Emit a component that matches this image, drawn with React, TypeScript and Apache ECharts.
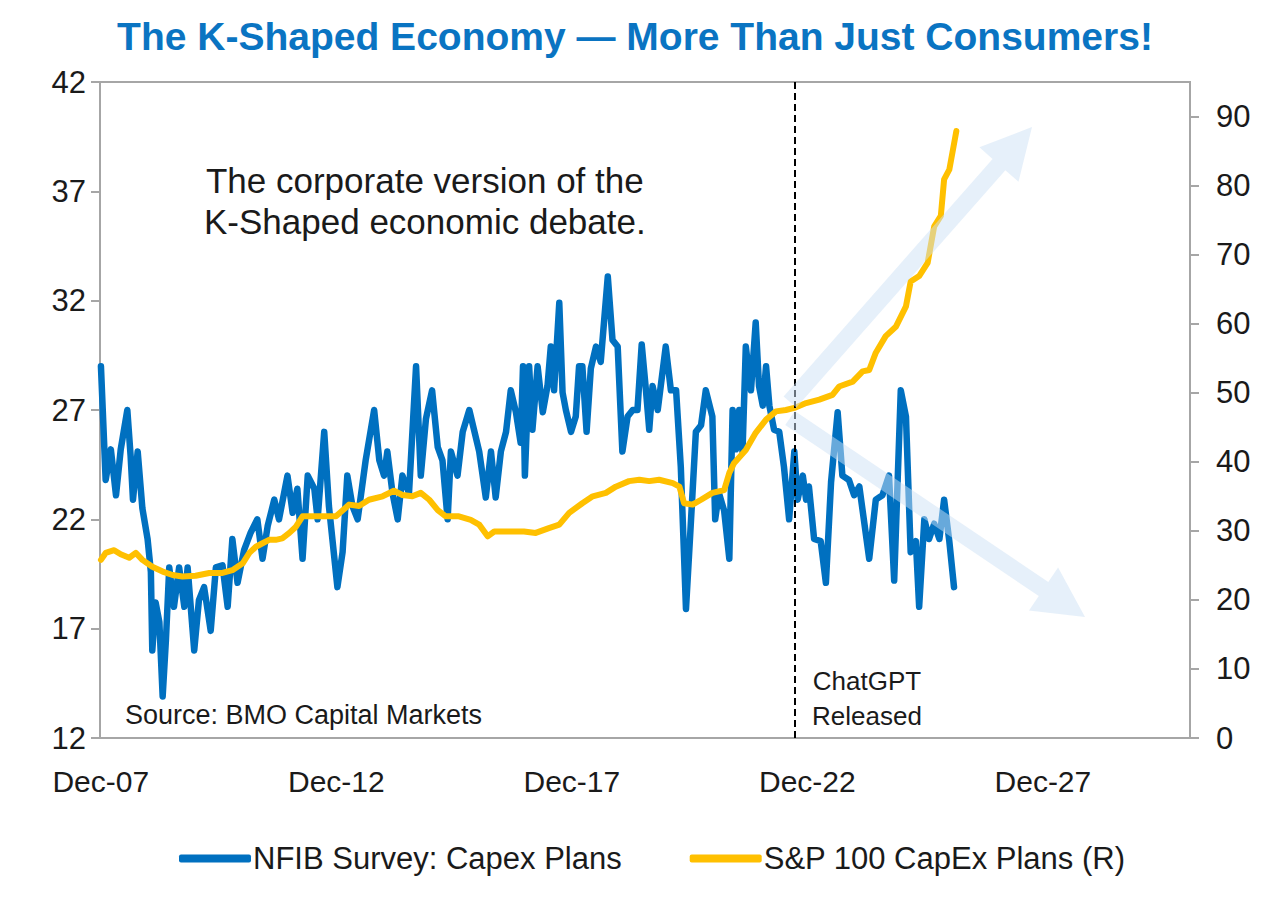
import React, { useEffect, useRef } from 'react';
import * as echarts from 'echarts';

// NFIB small-business capex plans (% of firms), positions in decimal years
const nfibYears = [
  2007.92, 2008.02, 2008.13, 2008.24, 2008.34, 2008.48, 2008.55, 2008.60, 2008.70, 2008.80,
  2008.91, 2008.98, 2009.01, 2009.08, 2009.16, 2009.23, 2009.30, 2009.37, 2009.47, 2009.58,
  2009.69, 2009.76, 2009.90, 2010.00, 2010.11, 2010.25, 2010.36, 2010.50, 2010.61, 2010.71,
  2010.82, 2010.96, 2011.10, 2011.24, 2011.35, 2011.46, 2011.60, 2011.70, 2011.88, 2011.99,
  2012.09, 2012.20, 2012.31, 2012.45, 2012.52, 2012.66, 2012.76, 2012.94, 2013.05, 2013.15,
  2013.26, 2013.37, 2013.54, 2013.72, 2013.83, 2013.93, 2014.00, 2014.11, 2014.22, 2014.32,
  2014.46, 2014.61, 2014.71, 2014.82, 2014.95, 2015.07, 2015.17, 2015.28, 2015.35, 2015.49,
  2015.60, 2015.74, 2015.84, 2015.95, 2016.09, 2016.20, 2016.30, 2016.41, 2016.52, 2016.62,
  2016.73, 2016.83, 2016.88, 2016.92, 2017.01, 2017.08, 2017.19, 2017.30, 2017.40, 2017.47,
  2017.54, 2017.65, 2017.72, 2017.79, 2017.90, 2018.00, 2018.07, 2018.14, 2018.23, 2018.32,
  2018.43, 2018.53, 2018.68, 2018.78, 2018.89, 2018.99, 2019.10, 2019.21, 2019.31, 2019.40,
  2019.49, 2019.56, 2019.63, 2019.74, 2019.91, 2020.02, 2020.13, 2020.23, 2020.34, 2020.44,
  2020.55, 2020.66, 2020.76, 2020.90, 2020.96, 2021.04, 2021.15, 2021.26, 2021.33, 2021.40,
  2021.47, 2021.54, 2021.61, 2021.72, 2021.82, 2021.89, 2021.97, 2022.04, 2022.11, 2022.21,
  2022.32, 2022.42, 2022.53, 2022.64, 2022.71, 2022.82, 2022.89, 2022.95, 2023.06, 2023.20,
  2023.31, 2023.42, 2023.56, 2023.66, 2023.80, 2023.91, 2024.02, 2024.23, 2024.37, 2024.51,
  2024.65, 2024.76, 2024.90, 2025.01, 2025.11, 2025.22, 2025.29, 2025.40, 2025.50, 2025.61,
  2025.72, 2025.82, 2025.93, 2026.03,
];
const nfibValues = [
  29.0, 23.8, 25.2, 23.1, 25.2, 27.0, 24.9, 22.9, 25.1, 22.5,
  21.1, 19.6, 16.0, 18.2, 17.3, 13.9, 16.5, 19.8, 18.0, 19.8,
  18.0, 19.8, 16.0, 18.3, 18.9, 16.9, 19.8, 19.9, 18.0, 21.1,
  19.1, 20.6, 21.4, 22.0, 20.2, 21.7, 22.9, 22.0, 24.0, 22.3,
  23.4, 20.2, 24.0, 23.4, 22.0, 26.0, 22.6, 18.9, 20.5, 24.0,
  22.6, 22.0, 24.7, 27.0, 24.7, 24.0, 25.1, 23.2, 22.0, 24.0,
  23.2, 29.0, 24.0, 26.6, 27.9, 25.3, 24.7, 22.0, 25.1, 24.0,
  26.0, 27.0, 26.1, 25.1, 23.0, 25.1, 23.0, 25.1, 26.0, 27.9,
  26.9, 25.5, 29.0, 24.0, 29.0, 26.1, 29.0, 26.9, 28.1, 29.9,
  27.9, 31.9, 27.8, 27.0, 26.0, 26.7, 29.0, 29.0, 26.0, 28.9,
  29.9, 29.2, 33.1, 30.2, 29.9, 25.1, 26.7, 27.0, 27.0, 30.0,
  27.9, 26.1, 28.1, 27.0, 29.9, 27.9, 27.9, 24.4, 17.9, 21.7,
  26.0, 26.3, 27.9, 26.7, 22.0, 23.2, 22.4, 20.2, 27.0, 25.2,
  27.0, 25.1, 29.9, 27.9, 31.0, 28.1, 27.2, 29.0, 27.2, 26.1,
  26.0, 24.4, 22.0, 25.1, 22.9, 24.0, 22.9, 23.5, 21.1, 21.0,
  19.1, 23.7, 26.9, 24.0, 23.8, 23.1, 23.5, 20.2, 22.9, 23.1,
  24.0, 19.2, 27.9, 26.7, 20.5, 21.0, 18.0, 22.0, 21.1, 21.8,
  21.1, 22.9, 21.0, 18.9,
];

// S&P 100 capex plans (right axis)
const spYears = [
  2007.92, 2008.02, 2008.20, 2008.34, 2008.52, 2008.66, 2008.80, 2009.01, 2009.23, 2009.44,
  2009.65, 2009.93, 2010.22, 2010.50, 2010.71, 2010.93, 2011.07, 2011.21, 2011.35, 2011.49,
  2011.63, 2011.77, 2011.92, 2012.06, 2012.20, 2012.41, 2012.69, 2012.91, 2013.19, 2013.40,
  2013.61, 2013.90, 2014.14, 2014.32, 2014.53, 2014.71, 2014.89, 2015.07, 2015.24, 2015.52,
  2015.77, 2015.95, 2016.13, 2016.27, 2016.52, 2016.90, 2017.15, 2017.43, 2017.65, 2017.86,
  2018.14, 2018.36, 2018.64, 2018.85, 2019.13, 2019.35, 2019.56, 2019.77, 2020.06, 2020.20,
  2020.30, 2020.48, 2020.66, 2020.90, 2021.15, 2021.26, 2021.36, 2021.61, 2021.82, 2022.04,
  2022.25, 2022.46, 2022.64, 2022.89, 2023.17, 2023.45, 2023.59, 2023.88, 2024.09, 2024.23,
  2024.37, 2024.58, 2024.80, 2025.01, 2025.11, 2025.29, 2025.47, 2025.61, 2025.75, 2025.82,
  2025.93, 2026.08,
];
const spValues = [
  25.8, 26.8, 27.2, 26.6, 26.1, 26.8, 25.8, 24.8, 24.1, 23.6,
  23.4, 23.5, 23.9, 23.9, 24.3, 25.3, 26.8, 27.7, 28.2, 28.7,
  28.7, 28.9, 29.7, 30.6, 32.1, 32.1, 32.1, 32.1, 33.8, 33.6,
  34.5, 35.0, 35.8, 35.2, 35.0, 35.5, 34.5, 33.0, 32.1, 32.1,
  31.6, 30.9, 29.2, 29.9, 29.9, 29.9, 29.7, 30.4, 30.9, 32.6,
  34.0, 35.0, 35.5, 36.4, 37.2, 37.4, 37.2, 37.4, 36.9, 36.4,
  34.0, 33.8, 34.5, 35.5, 35.9, 38.4, 39.8, 41.7, 44.2, 46.1,
  47.3, 47.5, 47.8, 48.5, 49.0, 49.7, 50.9, 51.6, 53.1, 53.3,
  55.8, 58.2, 59.6, 62.5, 66.1, 66.9, 68.8, 74.1, 75.6, 80.9,
  82.3, 87.9,
];

const leftTicks = [12, 17, 22, 27, 32, 37, 42];
const rightTicks = [0, 10, 20, 30, 40, 50, 60, 70, 80, 90];
const xTickYears = [2007.917, 2012.917, 2017.917, 2022.917, 2027.917];
const chatGptYear = 2022.64;

const BLUE = '#0070C0';
const GOLD = '#FFC000';
const AXIS_GRAY = '#A6A6A6';
const TEXT = '#1a1a1a';
const FONT = '"Liberation Sans", Arial, sans-serif';

// Thick translucent arrow outline from (x1,y1) to the tip (x2,y2)
function arrowPoints(x1: number, y1: number, x2: number, y2: number, shaft: number, head: number, headLen: number) {
  const dx = x2 - x1;
  const dy = y2 - y1;
  const len = Math.hypot(dx, dy);
  const ux = dx / len;
  const uy = dy / len;
  const nx = -uy;
  const ny = ux;
  const bx = x2 - ux * headLen;
  const by = y2 - uy * headLen;
  const s = shaft / 2;
  const h = head / 2;
  return [
    [x1 + nx * s, y1 + ny * s],
    [bx + nx * s, by + ny * s],
    [bx + nx * h, by + ny * h],
    [x2, y2],
    [bx - nx * h, by - ny * h],
    [bx - nx * s, by - ny * s],
    [x1 - nx * s, y1 - ny * s],
  ];
}

export default function App() {
  const ref = useRef<HTMLDivElement>(null);

  useEffect(() => {
    if (!ref.current) return;
    const chart = echarts.init(ref.current, null, { renderer: 'svg' });
    const arrowFill = 'rgba(206,226,246,0.5)';

    chart.setOption({
      animation: false,
      backgroundColor: '#ffffff',
      title: {
        text: 'The K-Shaped Economy \u2014 More Than Just Consumers!',
        left: 630,
        top: 12,
        textAlign: 'center',
        textStyle: { fontFamily: FONT, fontSize: 39, fontWeight: 'bold', color: '#0A74C2' },
      },
      legend: {
        left: 174,
        top: 838,
        icon: 'roundRect',
        itemWidth: 72,
        itemHeight: 8,
        itemGap: 68,
        textStyle: { fontFamily: FONT, fontSize: 31, color: TEXT, padding: [0, 0, 0, -3] },
        data: ['NFIB Survey: Capex Plans', 'S&P 100 CapEx Plans (R)'],
      },
      grid: {
        left: 100,
        right: 95,
        top: 82,
        bottom: 165,
        show: true,
        borderColor: AXIS_GRAY,
        borderWidth: 2,
      },
      xAxis: {
        type: 'value',
        min: 2007.9,
        max: 2031.04,
        axisLine: { show: true, lineStyle: { color: AXIS_GRAY, width: 2 } },
        axisTick: { show: false },
        splitLine: { show: false },
        axisLabel: {
          customValues: xTickYears,
          margin: 28,
          fontFamily: FONT,
          fontSize: 30,
          color: TEXT,
          formatter: (v: number) => 'Dec-' + String(Math.round(v - 0.917) % 100).padStart(2, '0'),
        },
      },
      yAxis: [
        {
          type: 'value',
          min: 12,
          max: 42,
          position: 'left',
          axisLine: { show: true, lineStyle: { color: AXIS_GRAY, width: 2 } },
          axisTick: { show: true, customValues: leftTicks, length: 9, lineStyle: { color: AXIS_GRAY, width: 2 } },
          splitLine: { show: false },
          axisLabel: { customValues: leftTicks, margin: 14, fontFamily: FONT, fontSize: 31, color: TEXT },
        },
        {
          type: 'value',
          min: 0,
          max: 95,
          position: 'right',
          axisLine: { show: true, lineStyle: { color: AXIS_GRAY, width: 2 } },
          axisTick: { show: true, customValues: rightTicks, length: 9, lineStyle: { color: AXIS_GRAY, width: 2 } },
          splitLine: { show: false },
          axisLabel: { customValues: rightTicks, margin: 26, fontFamily: FONT, fontSize: 31, color: TEXT },
        },
      ],
      series: [
        {
          name: 'NFIB Survey: Capex Plans',
          type: 'line',
          yAxisIndex: 0,
          showSymbol: false,
          color: BLUE,
          lineStyle: { color: BLUE, width: 6.5, join: 'round', cap: 'round' },
          data: nfibYears.map((y, i) => [y, nfibValues[i]]),
          z: 2,
        },
        {
          name: 'S&P 100 CapEx Plans (R)',
          type: 'line',
          yAxisIndex: 1,
          showSymbol: false,
          color: GOLD,
          lineStyle: { color: GOLD, width: 6, join: 'round', cap: 'round' },
          data: spYears.map((y, i) => [y, spValues[i]]),
          z: 3,
          markLine: {
            silent: true,
            symbol: ['none', 'none'],
            label: { show: false },
            lineStyle: { color: '#000000', width: 2, type: [7, 4] },
            data: [{ xAxis: chatGptYear }],
          },
        },
      ],
      graphic: [
        {
          type: 'polygon',
          z: 100,
          silent: true,
          shape: { points: arrowPoints(790, 402, 1032, 127, 17, 52, 50) },
          style: { fill: arrowFill },
        },
        {
          type: 'polygon',
          z: 100,
          silent: true,
          shape: { points: arrowPoints(790, 418, 1085, 617, 17, 52, 50) },
          style: { fill: arrowFill },
        },
        {
          type: 'text',
          left: 204,
          top: 160,
          z: 110,
          style: {
            text: 'The corporate version of the\nK-Shaped economic debate.',
            fontFamily: FONT,
            fontSize: 35,
            lineHeight: 41,
            fill: TEXT,
            textAlign: 'center',
          },
        },
        {
          type: 'text',
          left: 125,
          top: 701,
          z: 110,
          style: { text: 'Source: BMO Capital Markets', fontFamily: FONT, fontSize: 27, fill: TEXT },
        },
        {
          type: 'text',
          left: 812,
          top: 663,
          z: 110,
          style: {
            text: 'ChatGPT\nReleased',
            fontFamily: FONT,
            fontSize: 26,
            lineHeight: 35,
            fill: TEXT,
            textAlign: 'center',
          },
        },
      ],
    });

    return () => chart.dispose();
  }, []);

  return (
    <div
      ref={ref}
      style={{ position: 'fixed', left: 0, top: 0, width: 1285, height: 903, background: '#fff' }}
    />
  );
}
